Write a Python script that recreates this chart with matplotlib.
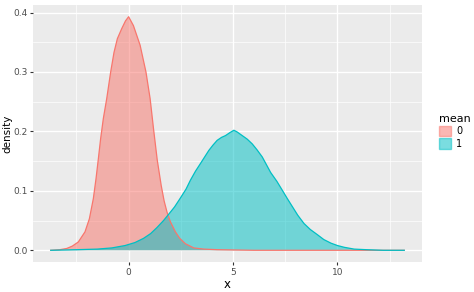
import numpy as np
import matplotlib
matplotlib.use("Agg")
import matplotlib.pyplot as plt
from matplotlib.patches import Patch

# densities
red_x = [-3.73, -3.3, -2.97, -2.7, -2.41, -2.09, -1.88, -1.69, -1.56, -1.45, -1.34, -1.21,
         -1.05, -0.86, -0.70, -0.54, -0.33, -0.15, 0.0, 0.23, 0.55, 0.83, 1.03, 1.19, 1.37,
         1.56, 1.70, 1.84, 2.0, 2.24, 2.45, 2.72, 3.12, 3.6, 4.24, 6.0, 9.0, 13.2]
red_y = [0.0, 0.001, 0.003, 0.007, 0.014, 0.031, 0.053, 0.087, 0.121, 0.154, 0.188, 0.222,
         0.255, 0.3, 0.333, 0.356, 0.373, 0.386, 0.393, 0.378, 0.345, 0.3, 0.255, 0.205, 0.152,
         0.109, 0.083, 0.064, 0.048, 0.031, 0.02, 0.011, 0.004, 0.002, 0.001, 0.0, 0.0, 0.0]

teal_x = [-3.73, -2.5, -1.5, -0.8, -0.17, 0.3, 0.71, 1.05, 1.35, 1.67, 1.95, 2.2, 2.48, 2.75,
          2.96, 3.2, 3.44, 3.64, 3.84, 4.04, 4.24, 4.45, 4.64, 4.85, 5.04, 5.2, 5.44, 5.68,
          5.92, 6.15, 6.4, 6.6, 6.8, 7.1, 7.36, 7.6, 7.85, 8.1, 8.4, 8.7, 9.05, 9.35, 9.69,
          10.0, 10.33, 10.8, 11.4, 12.2, 13.2]
teal_y = [0.0, 0.001, 0.002, 0.004, 0.008, 0.013, 0.02, 0.028, 0.038, 0.05, 0.062, 0.073,
          0.088, 0.103, 0.118, 0.133, 0.146, 0.157, 0.168, 0.177, 0.185, 0.19, 0.193, 0.198,
          0.202, 0.199, 0.193, 0.187, 0.179, 0.169, 0.157, 0.144, 0.131, 0.116, 0.101, 0.087,
          0.073, 0.059, 0.045, 0.035, 0.026, 0.018, 0.012, 0.008, 0.005, 0.002, 0.001, 0.0, 0.0]

groups = ["0", "1"]
colors = ["#F8766D", "#00BFC4"]

fig = plt.figure(figsize=(4.74, 2.92), dpi=100)
ax = fig.add_axes([33 / 474, 1 - 262 / 292, (422 - 33) / 474, (262 - 5) / 292])
ax.set_facecolor("#EBEBEB")

for xs, ys, c in [(red_x, red_y, colors[0]), (teal_x, teal_y, colors[1])]:
    ax.fill_between(xs, ys, 0, facecolor=c, alpha=0.52, edgecolor="none", zorder=3)
    ax.plot(xs, ys, color=c, lw=0.9, zorder=4, solid_joinstyle="round")

ax.set_xlim(-4.58, 14.05)
ax.set_ylim(-0.0197, 0.4127)
ax.set_xticks([0, 5, 10])
ax.set_yticks([0.0, 0.1, 0.2, 0.3, 0.4])
ax.set_yticklabels(["0.0", "0.1", "0.2", "0.3", "0.4"])
ax.set_xticks([-2.5, 2.5, 7.5, 12.5], minor=True)
ax.set_yticks([0.05, 0.15, 0.25, 0.35], minor=True)
ax.grid(which="major", color="white", lw=1.0, zorder=0)
ax.grid(which="minor", color="white", lw=0.5, zorder=0)
ax.set_axisbelow(True)
for s in ax.spines.values():
    s.set_visible(False)
ax.tick_params(which="major", length=2.5, color="#333333", labelsize=6.5, labelcolor="#4D4D4D", pad=1.5)
ax.tick_params(which="minor", length=0)
ax.set_xlabel("x", fontsize=8.5, labelpad=1)
ax.set_ylabel("density", fontsize=7.5)
ax.yaxis.set_label_coords(-21 / 389, 0.5)

handles = [Patch(facecolor=c, edgecolor=c, alpha=0.52, lw=1) for c in colors]
fig.legend(handles, groups, title="mean", loc="upper left", bbox_to_anchor=(430 / 474, 1 - 105 / 292),
           frameon=False, fontsize=7, title_fontsize=8, handlelength=1.3, handleheight=1.3,
           handletextpad=0.5, labelspacing=0.2, alignment="left")

fig.savefig("out.png", dpi=100)
